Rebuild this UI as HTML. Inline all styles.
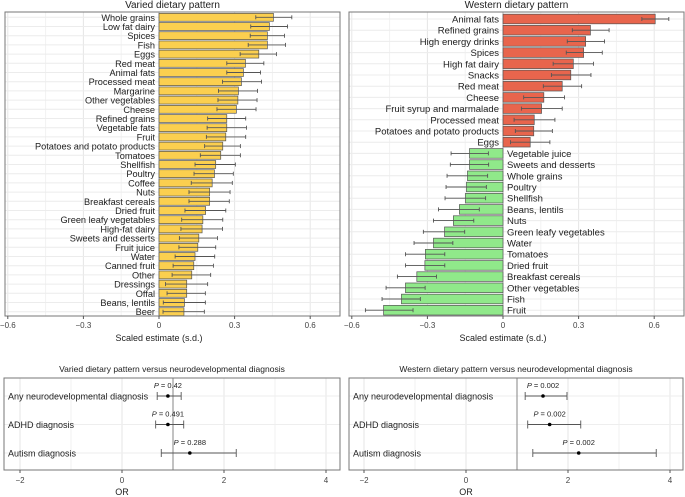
<!DOCTYPE html>
<html><head><meta charset="utf-8">
<style>
html,body{margin:0;padding:0;background:#fff;}
svg{display:block;font-family:"Liberation Sans",sans-serif;}
</style></head>
<body>
<svg id="chart" width="685" height="497" viewBox="0 0 685 497" xmlns="http://www.w3.org/2000/svg"></svg>
<script>
const variedCats = ["Whole grains","Low fat dairy","Spices","Fish","Eggs","Red meat","Animal fats","Processed meat","Margarine","Other vegetables","Cheese","Refined grains","Vegetable fats","Fruit","Potatoes and potato products","Tomatoes","Shellfish","Poultry","Coffee","Nuts","Breakfast cereals","Dried fruit","Green leafy vegetables","High-fat dairy","Sweets and desserts","Fruit juice","Water","Canned fruit","Other","Dressings","Offal","Beans, lentils","Beer"];
const variedVals = [0.454,0.438,0.430,0.430,0.396,0.343,0.335,0.327,0.315,0.313,0.307,0.269,0.269,0.265,0.253,0.245,0.225,0.220,0.211,0.201,0.201,0.185,0.174,0.171,0.158,0.154,0.143,0.138,0.130,0.110,0.110,0.101,0.099];
const variedLo = [0.384,0.364,0.362,0.354,0.322,0.269,0.269,0.252,0.236,0.234,0.230,0.193,0.191,0.188,0.181,0.164,0.143,0.139,0.128,0.119,0.119,0.103,0.090,0.087,0.081,0.079,0.064,0.056,0.052,0.026,0.032,0.017,0.016];
const variedHi = [0.527,0.510,0.498,0.502,0.466,0.416,0.403,0.407,0.391,0.389,0.385,0.344,0.347,0.344,0.323,0.323,0.303,0.295,0.291,0.282,0.279,0.265,0.253,0.252,0.232,0.225,0.221,0.216,0.205,0.193,0.184,0.184,0.180];

const westCats = ["Animal fats","Refined grains","High energy drinks","Spices","High fat dairy","Snacks","Red meat","Cheese","Fruit syrup and marmalade","Processed meat","Potatoes and potato products","Eggs","Vegetable juice","Sweets and desserts","Whole grains","Poultry","Shellfish","Beans, lentils","Nuts","Green leafy vegetables","Water","Tomatoes","Dried fruit","Breakfast cereals","Other vegetables","Fish","Fruit"];
const westVals = [0.604,0.347,0.328,0.320,0.279,0.269,0.235,0.162,0.153,0.124,0.122,0.108,-0.133,-0.133,-0.141,-0.145,-0.149,-0.173,-0.197,-0.232,-0.276,-0.308,-0.310,-0.342,-0.387,-0.403,-0.474];
const westLo = [0.551,0.275,0.255,0.251,0.199,0.192,0.160,0.082,0.073,0.044,0.049,0.030,-0.206,-0.209,-0.222,-0.226,-0.230,-0.256,-0.276,-0.316,-0.353,-0.387,-0.387,-0.419,-0.464,-0.480,-0.546];
const westHi = [0.658,0.421,0.403,0.394,0.359,0.349,0.312,0.244,0.235,0.206,0.196,0.186,-0.058,-0.057,-0.061,-0.066,-0.069,-0.094,-0.116,-0.152,-0.199,-0.231,-0.231,-0.264,-0.309,-0.328,-0.357];

const scaledTicks = [-0.6,-0.3,0,0.3,0.6];
const scaledTickLabels = ["\u22120.6","\u22120.3","0","0.3","0.6"];

const orCats = ["Any neurodevelopmental diagnosis","ADHD diagnosis","Autism diagnosis"];
const variedOR = [0.90,0.90,1.33];
const variedORLo = [0.69,0.66,0.77];
const variedORHi = [1.16,1.21,2.24];
const variedP = ["0.42","0.491","0.288"];
const westOR = [1.51,1.64,2.21];
const westORLo = [1.16,1.21,1.31];
const westORHi = [1.98,2.25,3.73];
const westP = ["0.002","0.002","0.002"];
const orTicks = [-2,0,2,4];
const orTickLabels = ["\u22122","0","2","4"];

const NS="http://www.w3.org/2000/svg";
const svg=document.getElementById('chart');
function mk(tag,attrs,parent){const e=document.createElementNS(NS,tag);for(const k in attrs)e.setAttribute(k,attrs[k]);(parent||svg).appendChild(e);return e;}
function txt(s,attrs,parent){const e=mk('text',attrs,parent);e.textContent=s;return e;}

function barPanel(o){
  const g=mk('g',{});
  
  
  const x=v=>o.x0+v*o.k;
  const n=o.cats.length;
  const y=i=>o.yTop+i*o.step;
  const t=txt(o.title,{x:(o.left+o.right)/2,y:8,'font-size':10,'text-anchor':'middle',fill:'#222'},g);
  
  
  // gridlines
  scaledTicks.forEach(v=>{const l=mk('line',{x1:x(v),x2:x(v),y1:12,y2:o.bottom,stroke:'#e6e6e6','stroke-width':1},g);
    });
  [-0.45,-0.15,0.15,0.45].forEach(v=>{mk('line',{x1:x(v),x2:x(v),y1:12,y2:o.bottom,stroke:'#f2f2f2','stroke-width':1},g);});
  for(let i=0;i<n;i++){mk('line',{x1:o.left,x2:o.right,y1:y(i),y2:y(i),stroke:'#ececec','stroke-width':1},g);}
  mk('line',{x1:x(0),x2:x(0),y1:12,y2:o.bottom,stroke:'#bbb','stroke-width':1},g);
  const bh=o.step*0.86;
  o.cats.forEach((c,i)=>{
    const v=o.vals[i];
    const r=mk('rect',{x:Math.min(x(0),x(v)),y:y(i)-bh/2,width:Math.abs(x(v)-x(0)),height:bh,fill:v>=0?o.pos:o.neg,stroke:'#555','stroke-width':0.7},g);
    
    
    const e=mk('g',{stroke:'#555','stroke-width':0.9},g);
    
    
    mk('line',{x1:x(o.lo[i]),x2:x(o.hi[i]),y1:y(i),y2:y(i)},e);
    mk('line',{x1:x(o.lo[i]),x2:x(o.lo[i]),y1:y(i)-2,y2:y(i)+2},e);
    mk('line',{x1:x(o.hi[i]),x2:x(o.hi[i]),y1:y(i)-2,y2:y(i)+2},e);
    const lab=txt(c,{x:v>=0?x(0)-4:x(0)+4,y:y(i)+3.5,'font-size':o.fs,'text-anchor':v>=0?'end':'start',fill:'#222'},g);
    
    
  });
  const box=mk('rect',{x:o.left,y:12,width:o.right-o.left,height:o.bottom-12,fill:'none',stroke:'#777','stroke-width':1},g);
  
  scaledTicks.forEach((v,i)=>{
    mk('line',{x1:x(v),x2:x(v),y1:o.bottom,y2:o.bottom+3,stroke:'#555'},g);
    const tl=txt(scaledTickLabels[i],{x:x(v),y:o.bottom+12,'font-size':8,'text-anchor':'middle',fill:'#444'},g);
    
  });
  const at=txt('Scaled estimate (s.d.)',{x:x(0),y:o.bottom+25,'font-size':9,'text-anchor':'middle',fill:'#222'},g);
  
}

barPanel({name:'varied-pattern-panel',title:'Varied dietary pattern',cats:variedCats,vals:variedVals,lo:variedLo,hi:variedHi,
  x0:159,k:252,left:5,right:340,bottom:316,yTop:17.3,step:9.2,pos:'#fbcf4f',neg:'#fbcf4f',fs:9.2});
barPanel({name:'western-pattern-panel',title:'Western dietary pattern',cats:westCats,vals:westVals,lo:westLo,hi:westHi,
  x0:503,k:252,left:349,right:684,bottom:316,yTop:19,step:11.2,pos:'#e8654d',neg:'#90e98a',fs:9.5});

function orPanel(o){
  const g=mk('g',{});
  
  
  const x=v=>o.x0+v*o.k;
  const rows=[396,424.5,453];
  const t=txt(o.title,{x:(o.left+o.right)/2,y:372,'font-size':8.5,'text-anchor':'middle',fill:'#222'},g);
  
  [-2,-1,0,1,2,3,4].forEach(v=>{mk('line',{x1:x(v),x2:x(v),y1:378,y2:470,stroke:v%2===0?'#e6e6e6':'#f2f2f2'},g);});
  rows.forEach(r=>mk('line',{x1:o.left,x2:o.right,y1:r,y2:r,stroke:'#eee'},g));
  const ref=mk('line',{x1:x(1),x2:x(1),y1:378,y2:470,stroke:'#999','stroke-width':1.2},g);
  
  orCats.forEach((c,i)=>{
    const r=rows[i];
    const lab=txt(c,{x:o.left+4,y:r+3.5,'font-size':9,fill:'#222'},g);
    
    const e=mk('g',{stroke:'#555','stroke-width':0.9},g);
    
    mk('line',{x1:x(o.lo[i]),x2:x(o.hi[i]),y1:r,y2:r},e);
    mk('line',{x1:x(o.lo[i]),x2:x(o.lo[i]),y1:r-4,y2:r+4},e);
    mk('line',{x1:x(o.hi[i]),x2:x(o.hi[i]),y1:r-4,y2:r+4},e);
    const p=mk('circle',{cx:x(o.vals[i]),cy:r,r:1.8,fill:'#000'},g);
    
    const pt=mk('text',{x:x(o.vals[i]),y:r-8,'font-size':7.5,'text-anchor':'middle',fill:'#222'},g);
    pt.innerHTML='<tspan font-style="italic">P</tspan> = '+o.p[i];
    
  });
  const box=mk('rect',{x:o.left,y:378,width:o.right-o.left,height:92,fill:'none',stroke:'#777'},g);
  
  orTicks.forEach((v,i)=>{
    mk('line',{x1:x(v),x2:x(v),y1:470,y2:473,stroke:'#555'},g);
    const tl=txt(orTickLabels[i],{x:x(v),y:483,'font-size':8,'text-anchor':'middle',fill:'#444'},g);
    
  });
  const at=txt('OR',{x:x(0),y:495,'font-size':9,'text-anchor':'middle',fill:'#222'},g);
  
}
orPanel({name:'varied-or-panel',title:'Varied dietary pattern versus neurodevelopmental diagnosis',vals:variedOR,lo:variedORLo,hi:variedORHi,p:variedP,x0:122,k:51,left:4,right:340});
orPanel({name:'western-or-panel',title:'Western dietary pattern versus neurodevelopmental diagnosis',vals:westOR,lo:westORLo,hi:westORHi,p:westP,x0:466,k:51,left:349,right:683});
</script>
</body></html>
